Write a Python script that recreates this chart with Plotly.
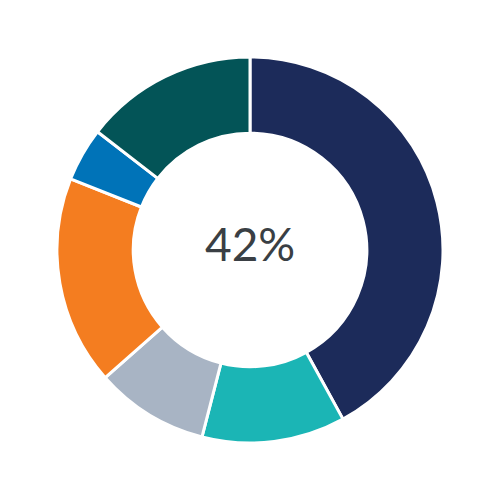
import plotly.graph_objects as go

segments = ["Segment A", "Segment B", "Segment C", "Segment D", "Segment E", "Segment F"]
shares = [42, 12, 9.5, 17.5, 4.5, 14.5]
colors = ["#1c2b5a", "#1bb5b5", "#a8b4c4", "#f47d20", "#0073b8", "#035457"]
center_label = "42%"

fig = go.Figure()

fig.add_trace(
    go.Pie(
        labels=segments,
        values=shares,
        hole=0.605,
        sort=False,
        direction="clockwise",
        rotation=0,
        textinfo="none",
        marker=dict(colors=colors, line=dict(color="white", width=3)),
        showlegend=False,
    )
)

fig.add_annotation(
    text=center_label,
    x=0.5,
    y=0.5,
    xref="paper",
    yref="paper",
    yshift=7,
    showarrow=False,
    font=dict(family="Lato", size=46, color="#3a3f44"),
)

# page has an 8px body margin, so shift the plot area up/left to centre it
fig.update_layout(
    width=500,
    height=500,
    margin=dict(l=49, r=65, t=49, b=65),
    paper_bgcolor="white",
    plot_bgcolor="white",
)

fig.write_html("out.html")
